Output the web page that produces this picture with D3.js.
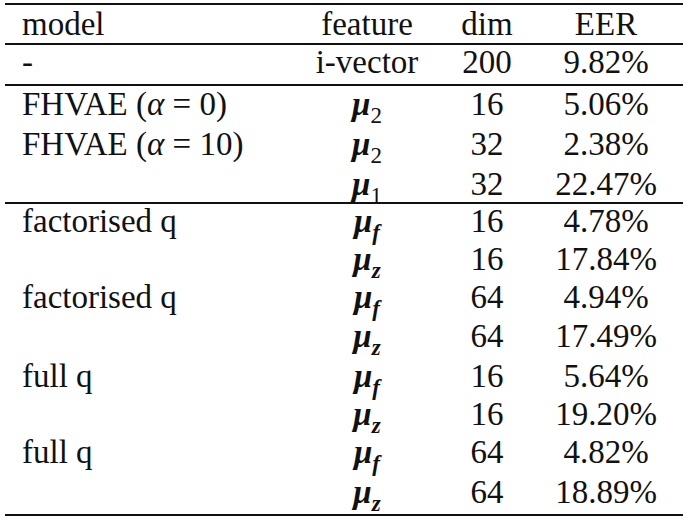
<!DOCTYPE html>
<html><head><meta charset="utf-8">
<script src="https://cdn.jsdelivr.net/npm/d3@7"></script>
<style>body{margin:0;background:#fff}text{font-family:"Liberation Serif","Times New Roman",serif;font-size:33px;fill:#111}</style>
</head><body><svg id="c" width="686" height="520"></svg>
<script>
var headers = ['model', 'feature', 'dim', 'EER'];
var models = ['-', 'FHVAE (α = 0)', 'FHVAE (α = 10)', '', 'factorised q', '', 'factorised q', '', 'full q', '', 'full q', ''];
var features = ['i-vector', 'μ|2', 'μ|2', 'μ|1', 'μ|f', 'μ|z', 'μ|f', 'μ|z', 'μ|f', 'μ|z', 'μ|f', 'μ|z'];
var dims = [200, 16, 32, 32, 16, 16, 64, 64, 16, 16, 64, 64];
var eers = ['9.82%', '5.06%', '2.38%', '22.47%', '4.78%', '17.84%', '4.94%', '17.49%', '5.64%', '19.20%', '4.82%', '18.89%'];
var rowBase = [73, 115, 155, 195, 232, 270, 308, 347, 387, 425, 463, 503];
var rules = [4, 44, 85, 203, 515];

var svg = d3.select('#c');
var colX = [22, 367, 487, 606];

// rules
svg.selectAll('line').data(rules).enter().append('line')
  .attr('x1', 5).attr('x2', 683).attr('y1', d => d).attr('y2', d => d)
  .attr('stroke', '#111').attr('stroke-width', 2);

// header
svg.selectAll('.hd').data(headers).enter().append('text')
  .attr('x', (d, i) => colX[i]).attr('y', 35)
  .attr('text-anchor', (d, i) => i === 0 ? 'start' : 'middle')
  .text(d => d);

var rows = svg.selectAll('.row').data(d3.range(dims.length)).enter().append('g')
  .attr('transform', i => 'translate(0,' + rowBase[i] + ')');

// model column
rows.append('text').attr('x', colX[0]).each(function (i) {
  var t = d3.select(this), m = models[i];
  if (m.indexOf('α') < 0) { t.text(m); return; }
  var parts = m.split('α');
  t.append('tspan').text(parts[0]);
  t.append('tspan').style('font-style', 'italic').text('α');
  t.append('tspan').text(parts[1].replace(' = ', ' = '));
});

// feature column
rows.append('text').attr('x', colX[1]).attr('text-anchor', 'middle').each(function (i) {
  var t = d3.select(this), f = features[i];
  if (f.indexOf('|') < 0) { t.text(f); return; }
  var p = f.split('|');
  t.append('tspan').style('font-style', 'italic').style('font-weight', 'bold').text(p[0]);
  var s = t.append('tspan').attr('dy', 8).style('font-size', '23px').text(p[1]);
  if (isNaN(+p[1])) s.style('font-style', 'italic').style('font-weight', 'bold');
});

rows.append('text').attr('x', colX[2]).attr('text-anchor', 'middle').text(i => dims[i]);
rows.append('text').attr('x', colX[3]).attr('text-anchor', 'middle').text(i => eers[i]);
</script></body></html>
